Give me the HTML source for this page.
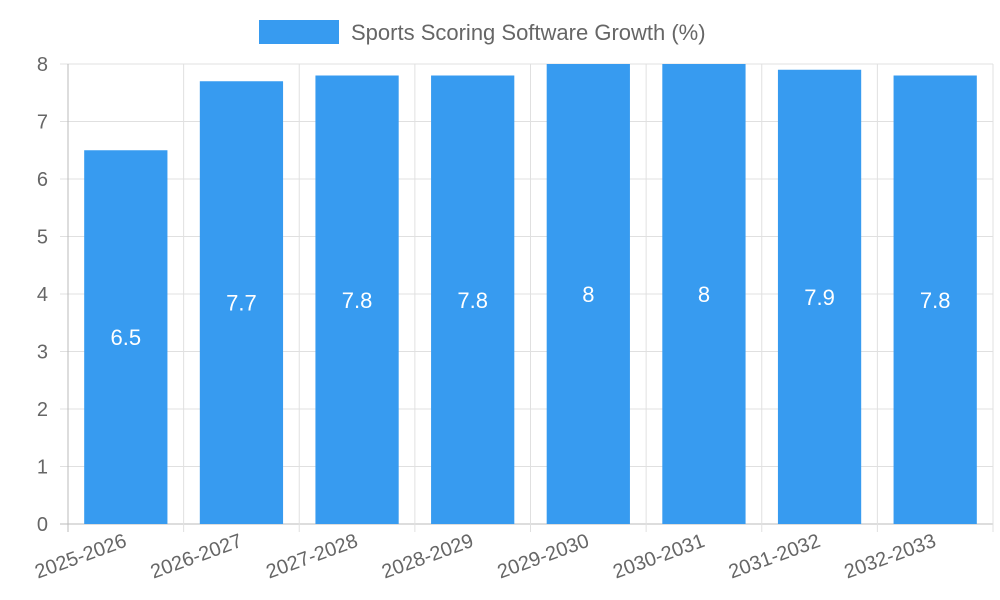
<!DOCTYPE html>
<html><head><meta charset="utf-8"><style>
html,body{margin:0;padding:0;background:#fff;}
svg{display:block;font-family:"Liberation Sans",sans-serif;}
</style></head><body>
<svg id="chart" width="1000" height="600">
<g id="legend">
<rect x="259" y="20" width="80" height="24" fill="#379bf0"></rect>
<text x="351" y="40" font-size="22" fill="#666">Sports Scoring Software Growth (%)</text>
</g>
<g id="grid"></g><g id="bars"></g><g id="labels"></g>
</svg>
<script>
const categories=["2025-2026","2026-2027","2027-2028","2028-2029","2029-2030","2030-2031","2031-2032","2032-2033"];
const values=[6.5,7.7,7.8,7.8,8,8,7.9,7.8];
const yTicks=[0,1,2,3,4,5,6,7,8];
const NS="http://www.w3.org/2000/svg";
const L=68,R=993,T=64,B=524,yMax=8;
const y=v=>B-(v/yMax)*(B-T);
const bw=(R-L)/categories.length;
const x=i=>L+bw*i;
const svg=document.getElementById('chart');
const grid=document.getElementById('grid'),bars=document.getElementById('bars'),labels=document.getElementById('labels');
function mk(t,a,p){const e=document.createElementNS(NS,t);for(const k in a)e.setAttribute(k,a[k]);p.appendChild(e);return e;}
yTicks.forEach(v=>{
 const l=mk('line',{x1:L-8,x2:R,y1:y(v),y2:y(v),stroke:v===0?'#bbb':'#e0e0e0','stroke-width':1},grid);
 
 
 const t=mk('text',{x:48,y:y(v)+7,'text-anchor':'end','font-size':20,fill:'#666'},labels);
 t.textContent=v;
 
 
});
for(let i=0;i<=categories.length;i++){
 const l=mk('line',{x1:x(i),x2:x(i),y1:T,y2:B+8,stroke:i===0?'#bbb':'#e0e0e0','stroke-width':1},grid);
 
 
}
categories.forEach((c,i)=>{
 const cx=x(i)+bw/2,w=bw*0.72;
 const r=mk('rect',{x:cx-w/2,y:y(values[i]),width:w,height:B-y(values[i]),fill:'#379bf0'},bars);
 
 
 const vt=mk('text',{x:cx,y:(y(values[i])+B)/2+8,'text-anchor':'middle','font-size':22,fill:'#fff'},labels);
 vt.textContent=values[i];
 
 
 const t=mk('text',{x:cx+2,y:546,'text-anchor':'end','font-size':20,fill:'#666',transform:`rotate(-20 ${cx+2} 546)`},labels);
 t.textContent=c;
 
 
});
</script>
</body></html>
